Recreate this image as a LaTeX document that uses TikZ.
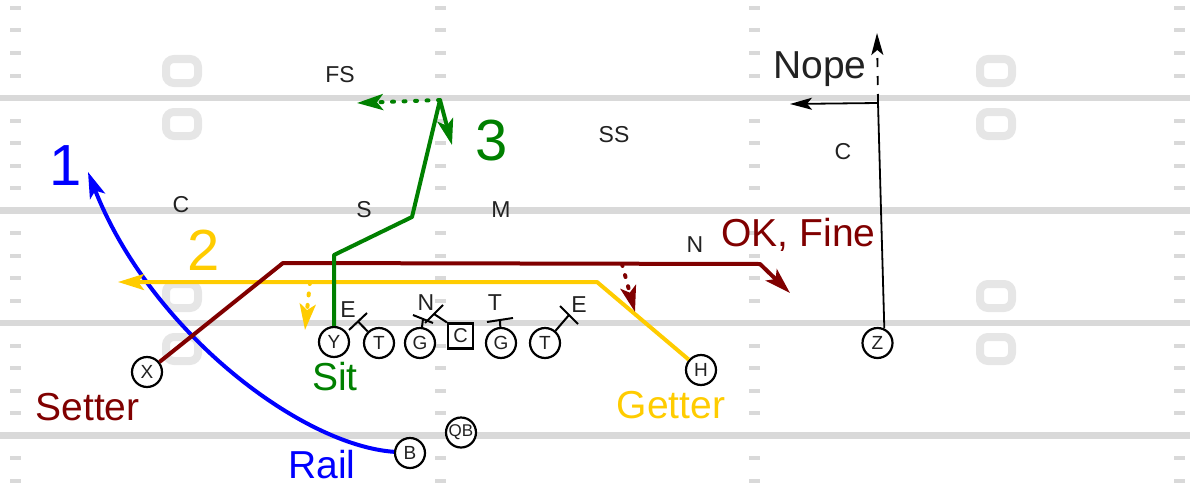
\documentclass[tikz,border=0pt]{standalone}
\usepackage{fontspec}
\setmainfont{Liberation Sans}
\usepackage{tikz}
\usetikzlibrary{arrows.meta}
\definecolor{field}{HTML}{D9D9D9}
\definecolor{numgray}{HTML}{E6E6E6}
\definecolor{setter}{HTML}{800000}
\definecolor{getter}{HTML}{FFCC00}
\definecolor{sit}{HTML}{008000}
\definecolor{rail}{HTML}{0000FF}
\definecolor{ink}{HTML}{222222}

\begin{document}
\begin{tikzpicture}[
        x=1pt, y=-1pt,
        yard/.style={draw=field,line width=6.5pt},
        digit/.style={draw=numgray,line width=8pt,rounded corners=8pt},
        player/.style={circle,draw,line width=2.2pt,fill=white,minimum size=30pt,inner sep=0pt,text=ink,font=\fontsize{19}{19}\selectfont},
        snapbox/.style={player,rectangle,minimum size=25pt,font=\fontsize{20}{20}\selectfont},
        dlabel/.style={anchor=base,inner sep=0pt,text=ink,font=\fontsize{23}{23}\selectfont},
        tag/.style={anchor=base,inner sep=0pt,font=\fontsize{39}{39}\selectfont},
        num/.style={anchor=base,inner sep=0pt,font=\fontsize{58}{58}\selectfont},
        route/.style={line width=4pt,line join=round},
        routetip/.style={-{Stealth[length=26pt,width=16pt,inset=6pt]}},
        dotroute/.style={line cap=round,dash pattern=on 2pt off 9.5pt},
        zroute/.style={line width=1.8pt,black},
        ztip/.style={-{Stealth[length=22pt,width=12pt,inset=5pt]}},
        block/.style={line width=2pt}
    ]
    \useasboundingbox (0,0) rectangle (1190,487);
    \foreach \y in {98,210.5,323,435.5}
        \draw[yard] (0,\y) -- (1190,\y);
    \foreach \x in {15.5,440,754,1179.5}
        \foreach \j in {0,...,21}{
            \pgfmathtruncatemacro{\rem}{mod(\j,5)}
            \ifnum\rem=4\relax\else
                \fill[field] (\x-5.5,6+22.5*\j) rectangle ++(11,4);
            \fi}
    \foreach \x in {182,996}
        \foreach \y in {71,124,296,349}
            \draw[digit] (\x-16,\y-12) rectangle ++(32,24);

    \node[player] (pX) at (147,372) {X};
    \node[player] (pY) at (334,342) {Y};
    \node[player] (pT1) at (379,343) {T};
    \node[player] (pG1) at (420,343) {G};
    \node[snapbox] (pC) at (460.5,336) {C};
    \node[player] (pG2) at (501,343) {G};
    \node[player] (pT2) at (545,343) {T};
    \node[player,font=\fontsize{17}{17}\selectfont] (pQB) at (461,432.5) {QB};
    \node[player] (pB) at (410,453) {B};
    \node[player] (pH) at (701,370) {H};
    \node[player] (pZ) at (877.5,343) {Z};

    \coordinate (r1) at (88,172);
    \draw[route,rail,routetip] (pB) .. controls (300,445) and (150,330) .. (r1);

    \coordinate (g1) at (597,282);
    \coordinate (g2) at (118,282);
    \coordinate (g3) at (310,282);
    \coordinate (g4) at (305,330);
    \draw[route,getter,routetip] (pH) -- (g1) -- (g2);
    \draw[route,getter,dotroute,routetip] (g3) -- (g4);

    \coordinate (s1) at (283,263);
    \coordinate (s2) at (760,264);
    \coordinate (s3) at (790,293);
    \coordinate (s4) at (622,264);
    \coordinate (s5) at (635,312);
    \draw[route,setter,routetip] (pX) -- (s1) -- (s2) -- (s3);
    \draw[route,setter,dotroute,routetip] (s4) -- (s5);

    \coordinate (y1) at (334,255);
    \coordinate (y2) at (412,217);
    \coordinate (y3) at (440,100);
    \coordinate (y4) at (452,145);
    \coordinate (y5) at (357,103);
    \draw[route,sit,routetip] (pY) -- (y1) -- (y2) -- (y3) -- (y4);
    \draw[route,sit,dotroute,routetip] (y3) -- (y5);

    \coordinate (z1) at (878,103);
    \coordinate (z3) at (790,104);
    \coordinate (z4) at (877,33);
    \draw[zroute] (pZ.65) -- (z1);
    \draw[zroute,ztip] (z1) -- (z3);
    \draw[zroute,dash pattern=on 9pt off 9pt,ztip] (z1) -- (z4);

    \coordinate (bT1) at (358,321.5);
    \coordinate (bG1) at (423,319);
    \coordinate (bC) at (434,314);
    \coordinate (bG2) at (500,320);
    \coordinate (bT2) at (569,315);
    \draw[block] (pT1) -- (bT1) ++(-9,8.5) -- ++(18,-17);
    \draw[block] (pG1) -- (bG1) ++(-10,-4) -- ++(20,8);
    \draw[block] (pC.north west) -- (bC) ++(-9,9) -- ++(18,-18);
    \draw[block] (pG2) -- (bG2) ++(-13,2) -- ++(26,-4);
    \draw[block] (pT2) -- (bT2) ++(-9,-9) -- ++(18,18);

    \node[dlabel] (dFS) at (340,82.5) {FS};
    \node[dlabel] (dSS) at (614,142) {SS};
    \node[dlabel] (dS) at (364,217) {S};
    \node[dlabel] (dM) at (501,217) {M};
    \node[dlabel] (dCL) at (181,212) {C};
    \node[dlabel] (dCR) at (843,159) {C};
    \node[dlabel] (dN) at (695,252) {N};
    \node[dlabel] (dEL) at (348,317) {E};
    \node[dlabel] (dNT) at (426,310) {N};
    \node[dlabel] (dT) at (495,310) {T};
    \node[dlabel] (dER) at (579,312) {E};

    \node[num,rail] (n1) at (66,185) {1};
    \node[num,getter] (n2) at (204,270) {2};
    \node[num,sit] (n3) at (492,160) {3};
    \node[tag,setter] (lSetter) at (87.5,420) {Setter};
    \node[tag,getter] (lGetter) at (671,418) {Getter};
    \node[tag,sit] (lSit) at (335,390) {Sit};
    \node[tag,rail] (lRail) at (322,478) {Rail};
    \node[tag,setter] (lOK) at (798.5,246) {OK, Fine};
    \node[tag,ink] (lNope) at (820,78) {Nope};
\end{tikzpicture}
\end{document}
